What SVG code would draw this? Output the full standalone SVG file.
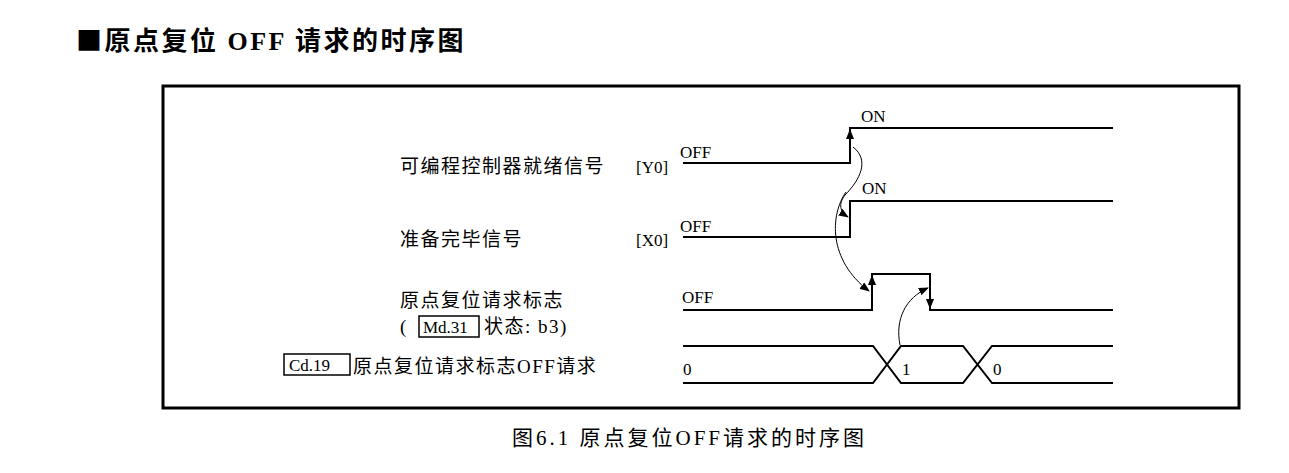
<svg xmlns="http://www.w3.org/2000/svg" width="1289" height="473" viewBox="0 0 1289 473">
<defs>
<marker id="ah" markerWidth="10" markerHeight="8" refX="9" refY="4" orient="auto" markerUnits="userSpaceOnUse"><path d="M0,0 L10,4 L0,8 Z" fill="#000"/></marker>
</defs>
<style>
text{font-family:"Liberation Serif","Noto Sans CJK SC",serif;fill:#000}
.c{font-family:"Liberation Serif","Noto Sans CJK SC",serif;font-size:19px;letter-spacing:1.5px}
.s{font-size:17px}
.sig{fill:none;stroke:#000;stroke-width:2}
.thin{fill:none;stroke:#000;stroke-width:1}
</style>
<rect width="1289" height="473" fill="#fff"/>
<text x="76" y="50" style="font-family:'Liberation Serif','Noto Sans CJK SC',serif;font-size:26px;font-weight:bold;letter-spacing:2.5px"><tspan style="font-family:'Noto Sans CJK SC',sans-serif">■</tspan>原点复位 OFF 请求的时序图</text>
<rect x="163" y="86" width="1076" height="322" fill="none" stroke="#000" stroke-width="3"/>
<g id="labels">
<text class="c" x="400" y="173">可编程控制器就绪信号</text>
<text class="s" x="636" y="173">[Y0]</text>
<text class="c" x="400" y="246">准备完毕信号</text>
<text class="s" x="636" y="246">[X0]</text>
<text class="c" x="400" y="307">原点复位请求标志</text>
<text class="c" x="400" y="333">(</text>
<rect x="419" y="316" width="60" height="21" fill="none" stroke="#000" stroke-width="1.5"/>
<text class="s" x="423" y="333">Md.31</text>
<text class="c" x="484" y="333">状态: b3)</text>
<rect x="284" y="354" width="66" height="21" fill="none" stroke="#000" stroke-width="1.5"/>
<text class="s" x="289" y="371">Cd.19</text>
<text class="c" x="353" y="373">原点复位请求标志OFF请求</text>
</g>
<g id="signals">
<path class="sig" d="M683,163 H850 V128 H1113"/>
<text class="s" x="680" y="158">OFF</text><text class="s" x="861" y="122">ON</text>
<path class="sig" d="M683,237 H850 V201 H1113"/>
<text class="s" x="680" y="232">OFF</text><text class="s" x="862" y="194">ON</text>
<path class="sig" d="M683,310 H872 V274 H930 V310 H1113"/>
<text class="s" x="682" y="303">OFF</text>
<path class="sig" d="M683,346 H873 L901,383 H963 L992,346 H1113 M683,383 H873 L901,346 H963 L992,383 H1113"/>
<text class="s" x="683" y="375">0</text><text class="s" x="902" y="375">1</text><text class="s" x="993" y="375">0</text>
</g>
<g id="connectors">
<path class="sig" d="M850,145 V130" marker-end="url(#ah)"/>
<path class="sig" d="M872,294 V276" marker-end="url(#ah)"/>
<path class="sig" d="M930,290 V308" marker-end="url(#ah)"/>
<path class="thin" d="M853,147 C870,160 860,180 845,195 C838,204 840,212 848,217" marker-end="url(#ah)"/>
<path class="thin" d="M846,192 C830,215 828,260 869,291" marker-end="url(#ah)"/>
<path class="thin" d="M900,345 C895,320 905,298 928,288" marker-end="url(#ah)"/>
</g>
<text x="512" y="445" style="font-family:'Liberation Serif','Noto Sans CJK SC',serif;font-size:21px;letter-spacing:3px">图6.1 原点复位OFF请求的时序图</text>
</svg>
